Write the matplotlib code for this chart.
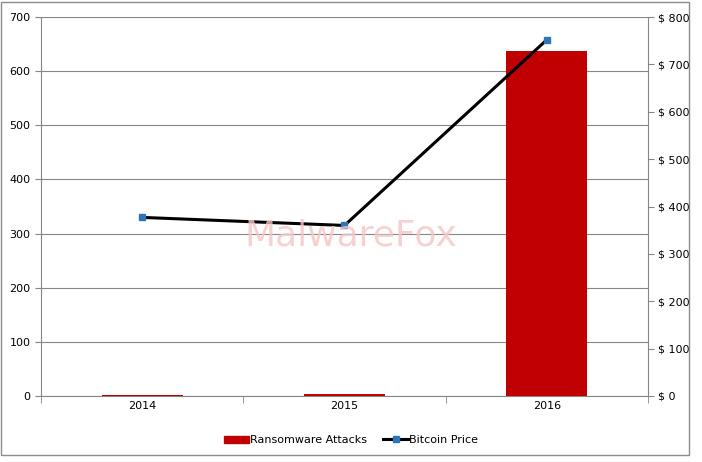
import matplotlib
matplotlib.use("Agg")
import matplotlib.pyplot as plt
from matplotlib.patches import Rectangle
from matplotlib.lines import Line2D

years = ["2014", "2015", "2016"]
attacks = [2, 4, 637]
btc = [377, 360, 752]

fig = plt.figure(figsize=(7.02, 4.62), dpi=100)
fig.patches.append(Rectangle((0.002, 0.016), 0.98, 0.98, transform=fig.transFigure,
                             fill=False, edgecolor="#8c8c8c", lw=1))
ax = fig.add_axes([0.0584, 0.143, 0.8646, 0.820])
x = range(len(years))
ax.bar(x, attacks, width=0.4, color="#c00000", zorder=3, label="Ransomware Attacks")
ax.set_xlim(-0.5, 2.5)
ax.set_ylim(0, 700)
ax.set_yticks(range(0, 701, 100))
ax.set_xticks(list(x))
ax.set_xticklabels(years)
ax.grid(axis="y", color="#868686", lw=0.8, zorder=0)
for s in ["top", "right"]:
    ax.spines[s].set_visible(False)
ax.spines["left"].set_color("#868686")
ax.spines["bottom"].set_color("#868686")
ax.tick_params(axis="both", labelsize=8, colors="#868686", labelcolor="black", length=4)
ax.tick_params(axis="x", length=0)
ax.set_xticks([-0.5, 0.5, 1.5, 2.5], minor=True)
ax.tick_params(axis="x", which="minor", length=5, color="#868686")

ax2 = ax.twinx()
ax2.plot(list(x), btc, color="black", lw=2.2, marker="s", markersize=5,
         markerfacecolor="#2e75b6", markeredgecolor="#2e75b6", zorder=4)
ax2.set_ylim(0, 800)
ax2.set_yticks(range(0, 801, 100))
ax2.set_yticklabels([f"$ {v}" for v in range(0, 801, 100)])
for s in ["top", "left", "bottom"]:
    ax2.spines[s].set_visible(False)
ax2.spines["right"].set_color("#868686")
ax2.tick_params(axis="y", labelsize=8, colors="#868686", labelcolor="black", length=4)

fig.text(0.5, 0.49, "MalwareFox", fontsize=26, color="#f5c6c6", ha="center", va="center", alpha=0.8)

handles = [Rectangle((0, 0), 1, 1, color="#c00000"),
           Line2D([], [], color="black", lw=2.2, marker="s", markersize=5,
                  markerfacecolor="#2e75b6", markeredgecolor="#2e75b6")]
fig.legend(handles, ["Ransomware Attacks", "Bitcoin Price"], loc="center",
           bbox_to_anchor=(0.5, 0.047), ncol=2, frameon=False, fontsize=8,
           handlelength=2.2, handletextpad=0.1, columnspacing=1.5)
fig.savefig("out.png", dpi=100)
